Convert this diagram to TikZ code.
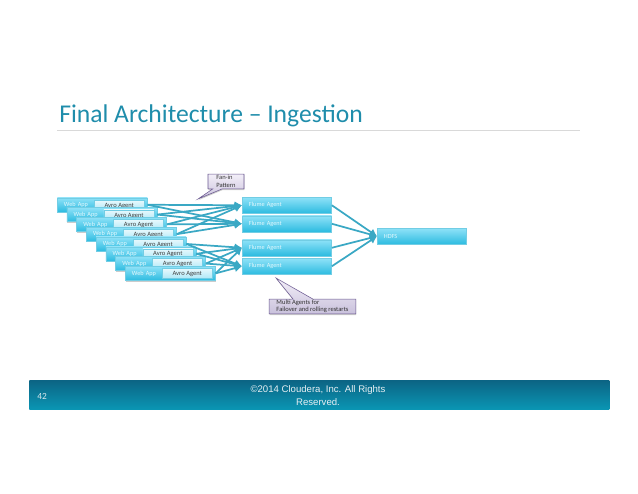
\documentclass[tikz,border=0pt]{standalone}
\usepackage{fontspec}
\setmainfont{Carlito}
\newfontfamily\arialfont{Liberation Sans}
\usetikzlibrary{
    arrows.meta,
    shadows,
    shapes.callouts
}
\definecolor{titleteal}{HTML}{1F8DAB}
\definecolor{linkteal}{HTML}{3AA8C4}
\definecolor{boxtop}{HTML}{8FE2F8}
\definecolor{boxbottom}{HTML}{2CBBE0}
\definecolor{boxedge}{HTML}{72CDE4}
\definecolor{avrotop}{HTML}{E8F9FD}
\definecolor{avrobottom}{HTML}{B0E8F7}
\definecolor{notetop}{HTML}{F3EFF8}
\definecolor{notebottom}{HTML}{C9C1DC}
\definecolor{noteedge}{HTML}{6A5890}
\definecolor{bandtop}{HTML}{0C6484}
\definecolor{bandbottom}{HTML}{0A96B4}
\tikzset{
    softshadow/.style={drop shadow={shadow xshift=0.3pt, shadow yshift=-0.9pt, fill=black, opacity=0.2}},
    bluebox/.style={draw=boxedge, line width=0.4pt, top color=boxtop, bottom color=boxbottom, softshadow,
        anchor=north west, inner ysep=0pt, inner xsep=5pt, text=white!75!boxtop, font=\fontsize{4.7}{6}\selectfont, align=left},
    webbox/.style={bluebox, text width=57.5pt, minimum height=10.5pt},
    flumebox/.style={bluebox, text width=57pt, minimum height=12pt},
    avrobox/.style={draw=boxedge, line width=0.3pt, top color=avrotop, bottom color=avrobottom, anchor=north west,
        inner sep=0pt, minimum width=37.5pt, minimum height=7.5pt, text=black!75, font=\fontsize{4.9}{6}\selectfont},
    notebox/.style={rectangle callout, draw=noteedge, line width=0.4pt, top color=notetop, bottom color=notebottom, softshadow,
        inner sep=0pt, text=black!80, font=\fontsize{4.9}{5.6}\selectfont, align=left},
    link/.style={draw=linkteal, line width=1.3pt, -{Latex[length=5.5pt, width=6pt]}}
}
\begin{document}
\begin{tikzpicture}[x=0.75pt, y=-0.75pt]
    \useasboundingbox (0, 0) rectangle (638, 493);
    \node[anchor=base west, inner sep=0pt, text=titleteal, font=\fontsize{19.2}{21}\selectfont] (title) at (59, 122) {Final Architecture – Ingestion};
    \coordinate (ruleleft) at (57, 130.5);
    \coordinate (ruleright) at (580, 130.5);
    \draw[black!15, line width=0.5pt] (ruleleft) -- (ruleright);
    \foreach \i in {1, ..., 8} {
        \node[webbox] (web\i) at ({57 + (\i - 1) * 9.72}, {197.5 + (\i - 1) * 9.8}) {Web App};
        \node[avrobox, text depth=-0.4pt] (avro\i) at ({94 + (\i - 1) * 9.72}, {200 + (\i - 1) * 9.72}) {Avro Agent};
    }
    \node[flumebox] (flume1) at (242, 197) {Flume Agent};
    \node[flumebox] (flume2) at (242, 215.5) {Flume Agent};
    \node[flumebox] (flume3) at (242, 239.5) {Flume Agent};
    \node[flumebox] (flume4) at (242, 258) {Flume Agent};
    \node[flumebox] (hdfs) at (377, 228) {HDFS};
    \foreach \i in {1, ..., 4} {
        \draw[link] (web\i.east) -- (flume1.west);
        \draw[link] (web\i.east) -- (flume2.west);
    }
    \foreach \i in {5, ..., 8} {
        \draw[link] (web\i.east) -- (flume3.west);
        \draw[link] (web\i.east) -- (flume4.west);
    }
    \foreach \i in {1, ..., 4} {
        \draw[link] (flume\i.east) -- (hdfs.west);
    }
    \node[notebox, minimum width=27pt, minimum height=11.2pt, callout pointer width=7pt, callout absolute pointer={(198, 199)}] (fanin) at (226, 181.5) {Fan-in\\Pattern};
    \node[notebox, minimum width=65pt, minimum height=11pt, callout pointer width=15pt, callout absolute pointer={(276, 278)}] (multi) at (312.5, 306.5) {Multi Agents for\\Failover and rolling restarts};
    \node[anchor=north west, inner sep=0pt, minimum width=435pt, minimum height=22pt, top color=bandtop, bottom color=bandbottom] (footer) at (29, 380) {};
    \node[text=white!85!bandtop, inner sep=0pt, font=\fontsize{7}{8}\selectfont] (page) at (42, 396) {42};
    \node[text=white!90!bandtop, inner sep=0pt, align=center, font=\arialfont\fontsize{7.2}{9.2}\selectfont] (rights) at (318, 395.5) {©2014 Cloudera, Inc. All Rights\\Reserved.};
\end{tikzpicture}
\end{document}
